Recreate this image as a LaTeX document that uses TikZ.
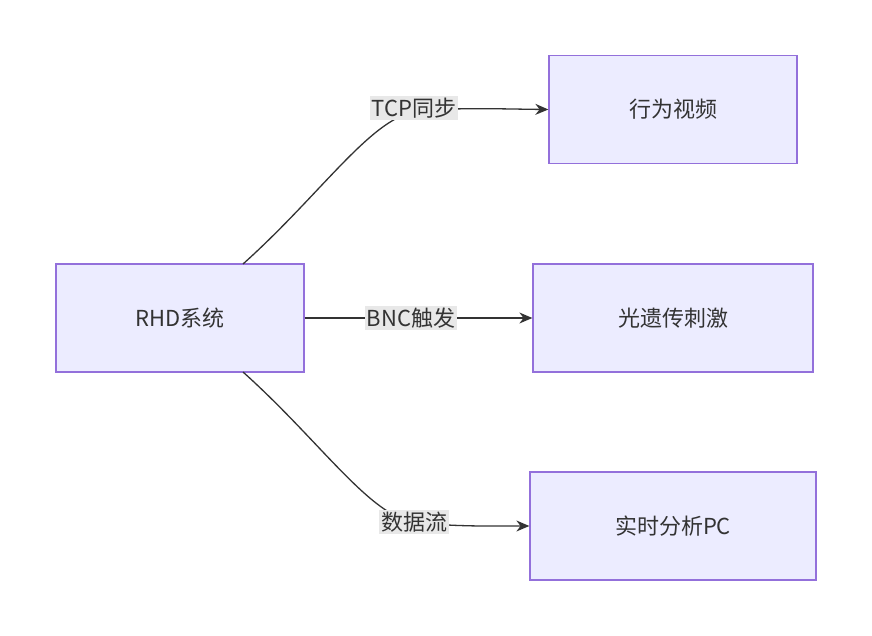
\documentclass[tikz,border=0pt]{standalone}
\usepackage{fontspec}
\setmainfont{Noto Sans CJK SC}
\usetikzlibrary{arrows.meta}
\definecolor{nfill}{HTML}{ECECFF}
\definecolor{nborder}{HTML}{9370DB}
\definecolor{lbl}{HTML}{E8E8E8}
\definecolor{edge}{HTML}{333333}
\begin{document}
\begin{tikzpicture}[x=1pt,y=-1pt,
  box/.style={draw=nborder,fill=nfill,line width=1.3pt,minimum height=108pt,font=\fontsize{22}{26}\selectfont,text=edge},
  lab/.style={fill=lbl,inner sep=2pt,font=\fontsize{22}{26}\selectfont,text=edge},
  conn/.style={draw=edge,line width=1.3pt,-{Stealth[length=13pt,width=11pt]}}]
\useasboundingbox (0,0) rectangle (872,636);
\node[box,minimum width=248pt] (rhd) at (180,318) {RHD系统};
\node[box,minimum width=248pt] (v) at (673,109.5) {行为视频};
\node[box,minimum width=280pt] (o) at (673,318) {光遗传刺激};
\node[box,minimum width=286pt] (p) at (673,526) {实时分析PC};
\coordinate (s1) at (243,264);
\coordinate (s3) at (243,372);
\draw[conn] (s1) .. controls (320,195) and (370,120) .. (414,112) .. controls (450,107) and (500,109) .. (v.west);
\node[lab] (l1) at (414,108) {TCP同步};
\draw[conn] (rhd.east) -- (o.west);
\node[lab] (l2) at (411,318) {BNC触发};
\draw[conn] (s3) .. controls (320,441) and (370,516) .. (414,522) .. controls (450,527) and (500,526) .. (p.west);
\node[lab] (l3) at (414,522) {数据流};
\end{tikzpicture}
\end{document}
